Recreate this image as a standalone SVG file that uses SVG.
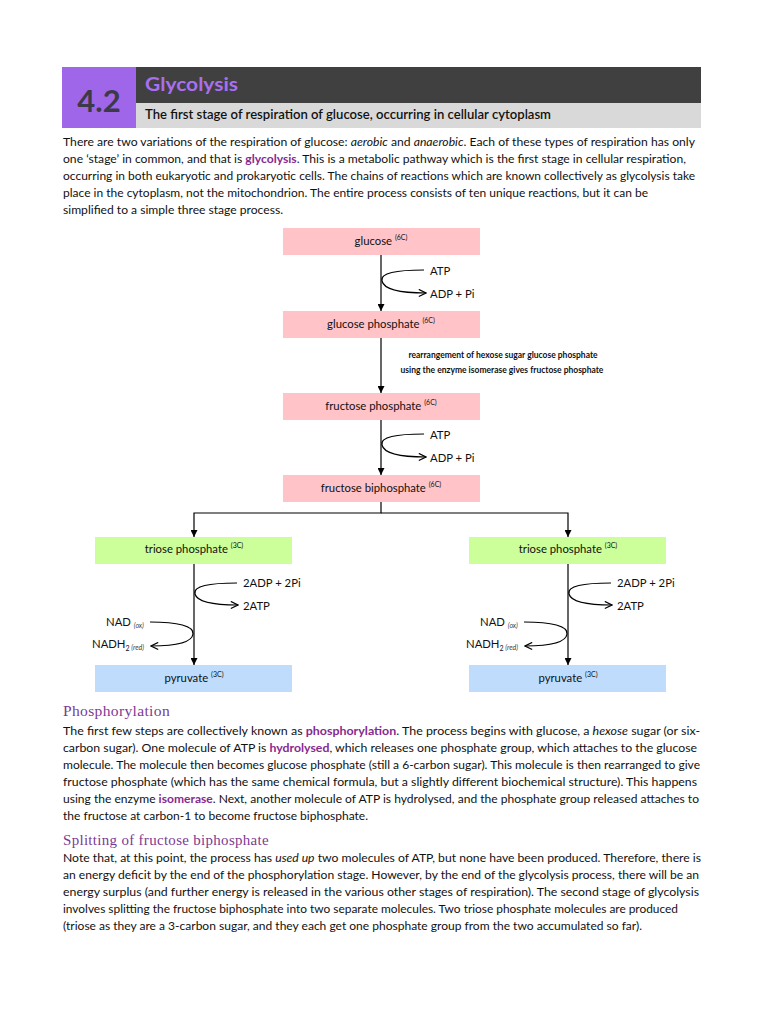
<svg xmlns="http://www.w3.org/2000/svg" width="768" height="1024" viewBox="0 0 768 1024">
<defs>
<style>
.body{font-family:Lato,"Open Sans","Liberation Sans",sans-serif;font-size:11.5px;fill:#111;}
.hl{fill:#862a8f;font-weight:bold;}
.it{font-style:italic;}
.head{font-family:"Liberation Serif","DejaVu Serif",serif;font-size:14px;fill:#7d3a92;letter-spacing:0.3px;}
.lbl{font-family:Lato,"Open Sans","Liberation Sans",sans-serif;font-size:11.3px;fill:#111;}
.sup{font-size:7px;}
.small{font-family:Lato,"Open Sans","Liberation Sans",sans-serif;font-size:7px;font-style:italic;fill:#444;}
.note{font-family:Lato,"Open Sans","Liberation Sans",sans-serif;font-size:8.5px;font-weight:bold;fill:#111;}
.pink{fill:#ffc3c8;}
.green{fill:#ccff99;}
.blue{fill:#bfdcfc;}
.ln{fill:none;stroke:#000;stroke-width:1.2;}
</style>
<marker id="tri" viewBox="0 0 10 10" refX="10" refY="5" markerWidth="7" markerHeight="7" markerUnits="userSpaceOnUse" orient="auto">
<path d="M0,0 L10,5 L0,10 z" fill="#000"/>
</marker>
<marker id="chev" viewBox="0 0 10 10" refX="9" refY="5" markerWidth="9" markerHeight="9" markerUnits="userSpaceOnUse" orient="auto">
<path d="M1,1 L9,5 L1,9" fill="none" stroke="#000" stroke-width="1.3"/>
</marker>
</defs>
<rect width="768" height="1024" fill="#fff"/>

<g id="header">
<rect x="62" y="67" width="74" height="61" fill="#a066ea"/>
<rect x="136" y="67" width="565" height="36" fill="#404040"/>
<rect x="136" y="103" width="565" height="25" fill="#d9d9d9"/>
<text x="99" y="112" text-anchor="middle" font-family="Lato,'Open Sans','Liberation Sans',sans-serif" font-size="31" font-weight="bold" fill="#3c3a48">4.2</text>
<text x="145" y="91" font-family="Lato,'Open Sans','Liberation Sans',sans-serif" font-size="18" font-weight="bold" fill="#a96ff0" textLength="93" lengthAdjust="spacingAndGlyphs">Glycolysis</text>
<text x="145" y="119" font-family="Lato,'Open Sans','Liberation Sans',sans-serif" font-size="12.5" font-weight="600" fill="#111" textLength="406" lengthAdjust="spacingAndGlyphs">The first stage of respiration of glucose, occurring in cellular cytoplasm</text>
</g>

<g id="intro" class="body">
<text x="63" y="146" textLength="632" lengthAdjust="spacingAndGlyphs">There are two variations of the respiration of glucose: <tspan class="it">aerobic</tspan> and <tspan class="it">anaerobic</tspan>. Each of these types of respiration has only</text>
<text x="63" y="163" textLength="623" lengthAdjust="spacingAndGlyphs">one ‘stage’ in common, and that is <tspan class="hl">glycolysis</tspan>. This is a metabolic pathway which is the first stage in cellular respiration,</text>
<text x="63" y="180" textLength="632" lengthAdjust="spacingAndGlyphs">occurring in both eukaryotic and prokaryotic cells. The chains of reactions which are known collectively as glycolysis take</text>
<text x="63" y="197" textLength="585" lengthAdjust="spacingAndGlyphs">place in the cytoplasm, not the mitochondrion. The entire process consists of ten unique reactions, but it can be</text>
<text x="63" y="214" textLength="220" lengthAdjust="spacingAndGlyphs">simplified to a simple three stage process.</text>
</g>

<g id="connectors">
<line class="ln" x1="381" y1="255" x2="381" y2="311" marker-end="url(#tri)"/>
<line class="ln" x1="381" y1="338" x2="381" y2="393" marker-end="url(#tri)"/>
<line class="ln" x1="381" y1="420" x2="381" y2="475" marker-end="url(#tri)"/>
<polyline class="ln" points="381,502 381,513 194,513 194,537" marker-end="url(#tri)"/>
<polyline class="ln" points="381,513 568,513 568,537" marker-end="url(#tri)"/>
<line class="ln" x1="194" y1="564" x2="194" y2="665" marker-end="url(#tri)"/>
<line class="ln" x1="568" y1="564" x2="568" y2="665" marker-end="url(#tri)"/>
<path class="ln" d="M424,270 C396,270 380,273 382,281 C384,290 400,293 426,293" marker-end="url(#chev)"/>
<path class="ln" d="M424,434 C396,434 380,437 382,445 C384,454 400,457 426,457" marker-end="url(#chev)"/>
<path class="ln" d="M237,583 C209,583 193,586 195,594 C197,602 213,605 238,605" marker-end="url(#chev)"/>
<path class="ln" d="M611,583 C583,583 567,586 569,594 C571,602 587,605 612,605" marker-end="url(#chev)"/>
<path class="ln" d="M150,622 C178,622 194,626 193,634 C192,642 176,646 151,646" marker-end="url(#chev)"/>
<path class="ln" d="M524,622 C552,622 568,626 567,634 C566,642 550,646 525,646" marker-end="url(#chev)"/>
</g>

<g id="glucose">
<rect class="pink" x="283" y="228" width="197" height="27"/>
<text class="lbl" x="381" y="245" text-anchor="middle">glucose <tspan class="sup" dy="-5">(6C)</tspan></text>
</g>
<g id="atp1" class="lbl">
<text x="430" y="275">ATP</text>
<text x="430" y="298">ADP + Pi</text>
</g>
<g id="glucose-phosphate">
<rect class="pink" x="283" y="311" width="197" height="27"/>
<text class="lbl" x="381" y="328" text-anchor="middle">glucose phosphate <tspan class="sup" dy="-5">(6C)</tspan></text>
</g>
<g id="rearrangement">
<text class="note" x="503" y="358" text-anchor="middle">rearrangement of hexose sugar glucose phosphate</text>
<text class="note" x="502" y="373" text-anchor="middle">using the enzyme isomerase gives fructose phosphate</text>
</g>
<g id="fructose-phosphate">
<rect class="pink" x="283" y="393" width="197" height="27"/>
<text class="lbl" x="381" y="410" text-anchor="middle">fructose phosphate <tspan class="sup" dy="-5">(6C)</tspan></text>
</g>
<g id="atp2" class="lbl">
<text x="430" y="439">ATP</text>
<text x="430" y="462">ADP + Pi</text>
</g>
<g id="fructose-biphosphate">
<rect class="pink" x="283" y="475" width="197" height="27"/>
<text class="lbl" x="381" y="492" text-anchor="middle">fructose biphosphate <tspan class="sup" dy="-5">(6C)</tspan></text>
</g>

<g id="triose-left">
<rect class="green" x="95" y="537" width="197" height="27"/>
<text class="lbl" x="194" y="553" text-anchor="middle">triose phosphate <tspan class="sup" dy="-5">(3C)</tspan></text>
</g>
<g id="triose-right">
<rect class="green" x="469" y="537" width="197" height="27"/>
<text class="lbl" x="568" y="553" text-anchor="middle">triose phosphate <tspan class="sup" dy="-5">(3C)</tspan></text>
</g>
<g id="energy-left" class="lbl">
<text x="243" y="587">2ADP + 2Pi</text>
<text x="243" y="610">2ATP</text>
<text x="106" y="626">NAD <tspan class="small" dy="2">(ox)</tspan></text>
<text x="92" y="648">NADH<tspan font-size="7" dy="3">2</tspan><tspan class="small" dy="-1"> (red)</tspan></text>
</g>
<g id="energy-right" class="lbl">
<text x="617" y="587">2ADP + 2Pi</text>
<text x="617" y="610">2ATP</text>
<text x="480" y="626">NAD <tspan class="small" dy="2">(ox)</tspan></text>
<text x="466" y="648">NADH<tspan font-size="7" dy="3">2</tspan><tspan class="small" dy="-1"> (red)</tspan></text>
</g>
<g id="pyruvate-left">
<rect class="blue" x="95" y="665" width="197" height="27"/>
<text class="lbl" x="194" y="682" text-anchor="middle">pyruvate <tspan class="sup" dy="-5">(3C)</tspan></text>
</g>
<g id="pyruvate-right">
<rect class="blue" x="469" y="665" width="197" height="27"/>
<text class="lbl" x="568" y="682" text-anchor="middle">pyruvate <tspan class="sup" dy="-5">(3C)</tspan></text>
</g>

<g id="phosphorylation">
<text class="head" x="63" y="716" textLength="107" lengthAdjust="spacingAndGlyphs">Phosphorylation</text>
<g class="body">
<text x="63" y="735" textLength="637" lengthAdjust="spacingAndGlyphs">The first few steps are collectively known as <tspan class="hl">phosphorylation</tspan>. The process begins with glucose, a <tspan class="it">hexose</tspan> sugar (or six-</text>
<text x="63" y="752" textLength="634" lengthAdjust="spacingAndGlyphs">carbon sugar). One molecule of ATP is <tspan class="hl">hydrolysed</tspan>, which releases one phosphate group, which attaches to the glucose</text>
<text x="63" y="769" textLength="637" lengthAdjust="spacingAndGlyphs">molecule. The molecule then becomes glucose phosphate (still a 6-carbon sugar). This molecule is then rearranged to give</text>
<text x="63" y="786" textLength="634" lengthAdjust="spacingAndGlyphs">fructose phosphate (which has the same chemical formula, but a slightly different biochemical structure). This happens</text>
<text x="63" y="803" textLength="636" lengthAdjust="spacingAndGlyphs">using the enzyme <tspan class="hl">isomerase</tspan>. Next, another molecule of ATP is hydrolysed, and the phosphate group released attaches to</text>
<text x="63" y="820" textLength="305" lengthAdjust="spacingAndGlyphs">the fructose at carbon-1 to become fructose biphosphate.</text>
</g>
</g>

<g id="splitting">
<text class="head" x="63" y="845" textLength="206" lengthAdjust="spacingAndGlyphs">Splitting of fructose biphosphate</text>
<g class="body">
<text x="63" y="862" textLength="638" lengthAdjust="spacingAndGlyphs">Note that, at this point, the process has <tspan class="it">used up</tspan> two molecules of ATP, but none have been produced. Therefore, there is</text>
<text x="63" y="879" textLength="636" lengthAdjust="spacingAndGlyphs">an energy deficit by the end of the phosphorylation stage. However, by the end of the glycolysis process, there will be an</text>
<text x="63" y="896" textLength="636" lengthAdjust="spacingAndGlyphs">energy surplus (and further energy is released in the various other stages of respiration). The second stage of glycolysis</text>
<text x="63" y="913" textLength="615" lengthAdjust="spacingAndGlyphs">involves splitting the fructose biphosphate into two separate molecules. Two triose phosphate molecules are produced</text>
<text x="63" y="930" textLength="579" lengthAdjust="spacingAndGlyphs">(triose as they are a 3-carbon sugar, and they each get one phosphate group from the two accumulated so far).</text>
</g>
</g>
</svg>
